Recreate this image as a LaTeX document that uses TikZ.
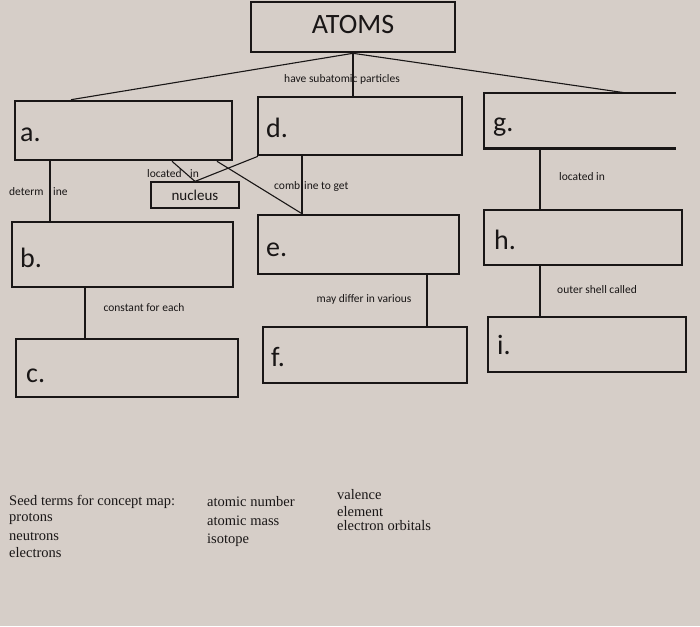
\documentclass[tikz,border=0pt]{standalone}
\usepackage{fontspec}
\setmainfont{Liberation Serif}
\newfontfamily\lblfont{Carlito}
\definecolor{paper}{RGB}{214,206,200}
\definecolor{ink}{RGB}{25,22,22}
\begin{document}
\begin{tikzpicture}[x=1pt,y=-1pt,
  box/.style={draw=ink,line width=2.6pt,rectangle,inner sep=0pt},
  smallbox/.style={draw=ink,line width=1.2pt,rectangle,inner sep=0pt},
  conn/.style={draw=ink,line width=1.1pt},
  lbl/.style={font=\lblfont\fontsize{11.5}{13}\selectfont,text=ink,inner sep=0pt},
  letter/.style={font=\lblfont\fontsize{28}{30}\selectfont,text=ink,anchor=west,inner sep=0pt},
  seed/.style={font=\fontsize{14.5}{16}\selectfont,text=ink,anchor=west,inner sep=0pt}]
\fill[paper] (0,0) rectangle (700,626);
\useasboundingbox (0,0) rectangle (700,626);
% boxes
\node[box,minimum width=204pt,minimum height=50pt] (atoms) at (353,27) {};
\node[font=\lblfont\fontsize{28}{30}\selectfont,text=ink,inner sep=0pt] (atomst) at (353,25) {ATOMS};
\node[box,minimum width=217pt,minimum height=59pt] (a) at (123.5,130.5) {};
\node[box,minimum width=204pt,minimum height=58pt] (d) at (360,126) {};
\node[minimum width=192pt,minimum height=55pt,inner sep=0pt] (g) at (580,120.5) {};
\draw[ink,line width=2.6pt] (g.north east) -- (g.north west) -- (g.south west) -- (g.south east);
\node[smallbox,minimum width=88pt,minimum height=26pt,font=\lblfont\fontsize{15}{17}\selectfont,text=ink] (nuc) at (195,195) {nucleus};
\node[box,minimum width=221pt,minimum height=65pt] (b) at (122.5,254.5) {};
\node[box,minimum width=201pt,minimum height=59pt] (e) at (358.5,244.5) {};
\node[box,minimum width=198pt,minimum height=55pt] (h) at (583,237.5) {};
\node[box,minimum width=222pt,minimum height=58pt] (c) at (127,368) {};
\node[box,minimum width=204pt,minimum height=56pt] (f) at (365,355) {};
\node[box,minimum width=198pt,minimum height=55pt] (i) at (587,344.5) {};
% letters
\node[letter] (la) at (20,135) {a.};
\node[letter] (ld) at (266,128) {d.};
\node[letter] (lg) at (493,127) {g.};
\node[letter] (lb) at (20,258) {b.};
\node[letter] (le) at (266,250) {e.};
\node[letter] (lh) at (494,240) {h.};
\node[letter] (lc) at (26,376) {c.};
\node[letter] (lf) at (271,357) {f.};
\node[letter] (li) at (497,345) {i.};
% helper x positions
\coordinate (xa) at (71,0);
\coordinate (xg) at (625,0);
\coordinate (xab) at (50,0);
\coordinate (xan) at (172,0);
\coordinate (xdn) at (258,0);
\coordinate (xae) at (217,0);
\coordinate (xee) at (302,0);
\coordinate (xgh) at (540,0);
\coordinate (xbc) at (85,0);
\coordinate (xef) at (427,0);
% connectors
\draw[conn] (atoms.south) -- (a.north -| xa);
\draw[conn] (atoms.south) -- (d.north -| atoms.south);
\draw[conn] (atoms.south) -- (g.north -| xg);
\draw[conn] (a.south -| xab) -- (b.north -| xab);
\draw[conn] (a.south -| xan) -- (nuc.north);
\draw[conn] (d.south -| xdn) -- (nuc.north);
\draw[conn] (a.south -| xae) -- (e.north -| xee);
\draw[conn] (d.south -| xee) -- (e.north -| xee);
\draw[conn] (g.south -| xgh) -- (h.north -| xgh);
\draw[conn] (h.south -| xgh) -- (i.north -| xgh);
\draw[conn] (b.south -| xbc) -- (c.north -| xbc);
\draw[conn] (e.south -| xef) -- (f.north -| xef);
% link labels
\node[lbl] (t1) at (342,79) {have subatomic particles};
\node[lbl,anchor=west] (t2) at (9,192) {\makebox[38pt][l]{determ}\hspace{6pt}ine};
\node[lbl,anchor=west] (t3) at (147,174) {\makebox[38pt][l]{located}\hspace{5pt}in};
\node[lbl,anchor=west] (t4) at (274,186) {\makebox[27pt][l]{comb}\hspace{3pt}ine to get};
\node[lbl] (t5) at (582,177) {located in};
\node[lbl] (t6) at (144,308) {constant for each};
\node[lbl] (t7) at (364,299) {may differ in various};
\node[lbl] (t8) at (597,290) {outer shell called};
% seed terms
\node[seed] (s0) at (9,502) {Seed terms for concept map:};
\node[seed] (s1) at (9,519) {protons};
\node[seed] (s2) at (9,536) {neutrons};
\node[seed] (s3) at (9,553) {electrons};
\node[seed] (s4) at (207,502) {atomic number};
\node[seed] (s5) at (207,521) {atomic mass};
\node[seed] (s6) at (207,540) {isotope};
\node[seed] (s7) at (337,495) {valence};
\node[seed] (s8) at (337,512) {element};
\node[seed] (s9) at (337,526) {electron orbitals};
\end{tikzpicture}
\end{document}
